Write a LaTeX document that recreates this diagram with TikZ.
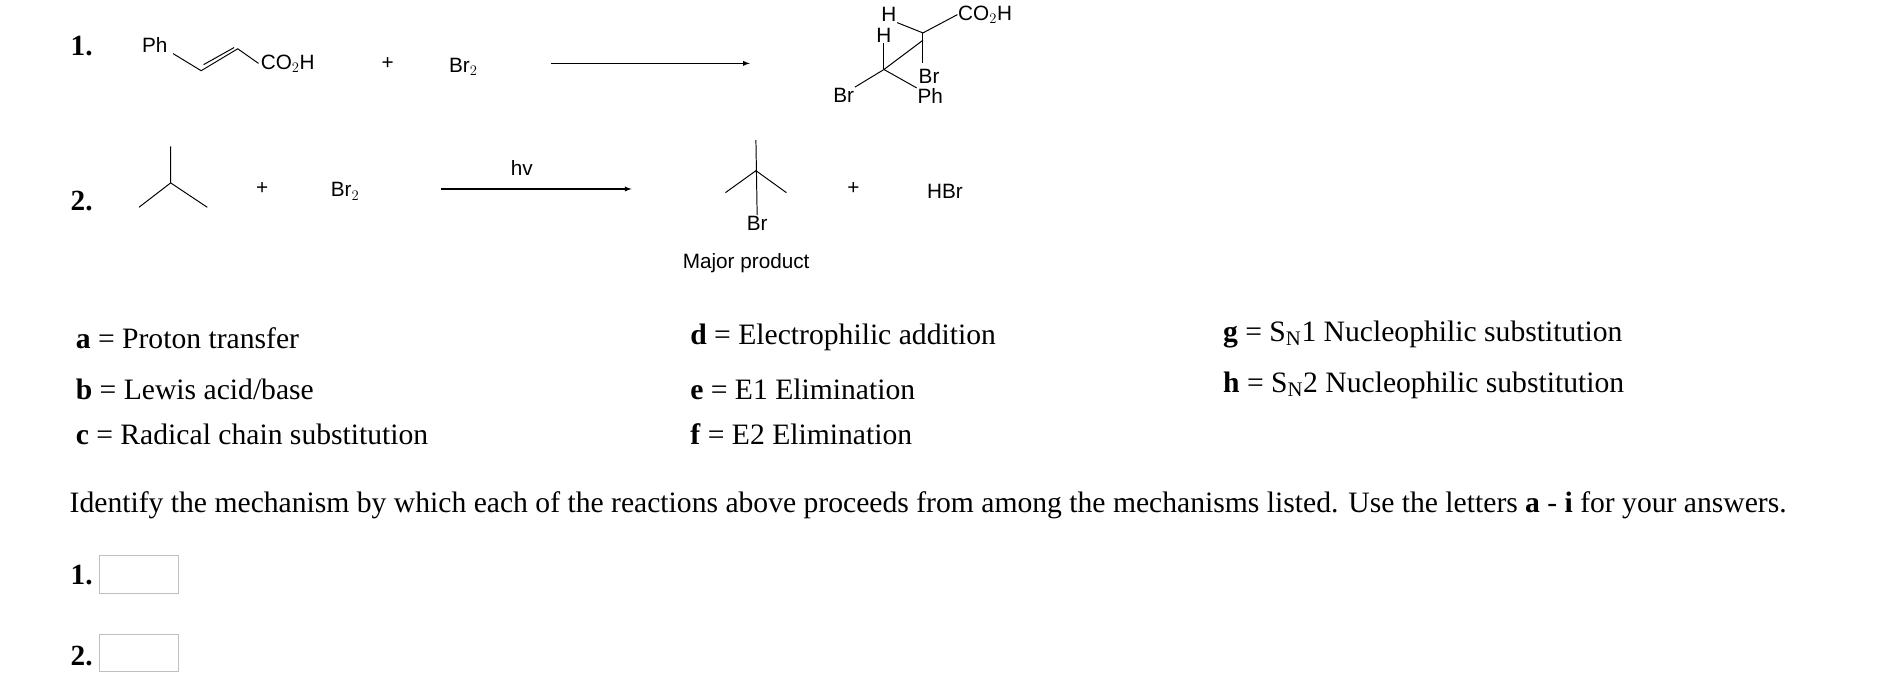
\documentclass[tikz,border=0pt]{standalone}
\usepackage{fontspec}
\setmainfont{Liberation Serif}
\setsansfont{Liberation Sans}
\usetikzlibrary{calc}
\begin{document}
\begin{tikzpicture}[x=1pt,y=-1pt,
  chem/.style={font=\sffamily\fontsize{17}{19}\selectfont,inner sep=0.5pt},
  txt/.style={font=\fontsize{24.3}{27}\selectfont,anchor=west,inner sep=0},
  num/.style={font=\bfseries\fontsize{24}{27}\selectfont,inner sep=0},
  bond/.style={line width=0.8pt},
  rarrow/.style={line width=0.9pt,-latex},
  ansbox/.style={draw=black!25,line width=0.8pt}]
\useasboundingbox (0,0) rectangle (1560,567.6);
% Reaction 1
\node[num] (n1) at (67,38) {1.};
\node[chem] (ph1) at (127,37) {Ph};
\coordinate (a1) at (142,44);
\coordinate (a2) at (165,58);
\coordinate (a3) at (195,40);
\coordinate (a4) at (212,52);
\draw[bond] (a1)--(a2)--(a3)--(a4);
\draw[bond] ($(a2)+(2,-5)$)--($(a3)+(-3,-1)$);
\node[chem] (co1) at (236,52) {CO$_2$H};
\node[chem] (p1) at (318,52) {+};
\node[chem] (br1) at (380,55) {Br$_2$};
\coordinate (r1s) at (452,52);
\coordinate (r1e) at (615,52);
\draw[rarrow] (r1s)--(r1e);
% product 1
\coordinate (c2) at (757,27);
\coordinate (c1) at (725,57);
\node[chem] (hu) at (729,12) {H};
\node[chem] (hl) at (725,29) {H};
\node[chem] (cop) at (808,12) {CO$_2$H};
\node[chem] (brl) at (692,78) {Br};
\node[chem] (brm) at (762,63) {Br};
\node[chem] (php) at (763,79) {Ph};
\draw[bond] (hu.south east)--(c2)--(cop.west);
\draw[bond] (c2)--(757,52);
\draw[bond] (c1)--(757,33);
\draw[bond] (c1)--(hl.south);
\draw[bond] (c1)--(brl.north east);
\draw[bond] (c1)--(php.north west);
% Reaction 2
\node[num] (n2) at (67,165) {2.};
\coordinate (ib) at (140,150);
\draw[bond] (140,120)--(ib) (114,170)--(ib)--(170,170);
\node[chem] (p2) at (215,155) {+};
\node[chem] (br2) at (283,157) {Br$_2$};
\node[chem] (hv) at (428,138) {hv};
\coordinate (r2s) at (362,155);
\coordinate (r2e) at (518,155);
\draw[rarrow] (r2s)--(r2e);
\coordinate (tb) at (620,140);
\node[chem] (brp) at (621,183) {Br};
\draw[bond] (620,115)--(brp.north) (595,158)--(tb)--(645,158);
\node[chem] (p3) at (700,155) {+};
\node[chem] (hbr) at (775,157) {HBr};
\node[chem] (maj) at (612,216) {Major product};
% Legend
\node[txt] (la) at (62,277) {\textbf{a} = Proton transfer};
\node[txt] (lb) at (62,319) {\textbf{b} = Lewis acid/base};
\node[txt] (lc) at (62,356) {\textbf{c} = Radical chain substitution};
\node[txt] (ld) at (566,277) {\textbf{d} = Electrophilic addition};
\node[txt] (le) at (566,319) {\textbf{e} = E1 Elimination};
\node[txt] (lf) at (566,356) {\textbf{f} = E2 Elimination};
\node[txt] (lg) at (1003,274) {\textbf{g} = S$_{\mathrm{N}}$1 Nucleophilic substitution};
\node[txt] (lh) at (1003,316) {\textbf{h} = S$_{\mathrm{N}}$2 Nucleophilic substitution};
\node[txt] (q) at (57,414) {Identify the mechanism by which each of the reactions above proceeds from among the mechanisms listed. Use the letters \textbf{a} - \textbf{i} for your answers.};
% Answers
\node[num] (an1) at (67,472) {1.};
\draw[ansbox] (82,456) rectangle (146,487);
\node[num] (an2) at (67,538) {2.};
\draw[ansbox] (82,520) rectangle (146,551);
\end{tikzpicture}
\end{document}
